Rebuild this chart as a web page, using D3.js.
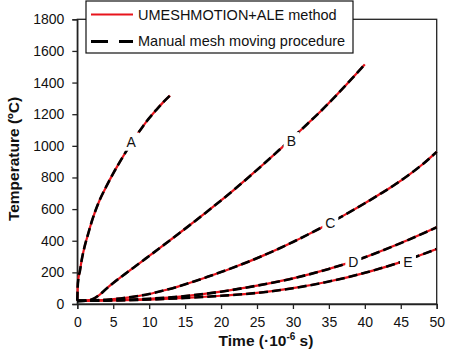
<!DOCTYPE html>
<html>
<head>
<meta charset="utf-8">
<script src="https://cdn.jsdelivr.net/npm/d3@7"></script>
<style>
  body { margin: 0; background: #fff; }
  text { font-family: "Liberation Sans", Arial, sans-serif; }
</style>
</head>
<body>
<svg id="chart" width="474" height="353"></svg>
<script>
// curve data: time (µs) and temperature (ºC)
const curveNames = ['A', 'B', 'C', 'D', 'E'];

const timeA = [0, 0.05, 0.15, 0.35, 0.6, 1, 1.5, 2, 3, 4, 5, 6, 7, 8, 9, 10, 11, 12, 12.9];
const tempA = [20, 105, 160, 205, 275, 360, 442, 520, 645, 740, 826, 905, 980, 1050, 1115, 1175, 1228, 1278, 1318];

const timeB = [0, 1, 2, 3, 4, 5, 6, 7, 8, 9, 10, 12, 14, 16, 18, 20, 22, 24, 26, 28, 30, 32, 34, 36, 38, 40];
const tempB = [20, 21, 28, 55, 95, 133, 168, 202, 236, 270, 304, 372, 441, 511, 582, 655, 730, 808, 888, 970, 1053, 1138, 1225, 1318, 1415, 1515];

const timeC = [0, 2, 4, 6, 8, 10, 12, 14, 16, 18, 20, 22, 24, 26, 28, 30, 32, 34, 36, 38, 40, 42, 44, 46, 48, 50];
const tempC = [20, 22, 27, 35, 47, 63, 85, 110, 139, 170, 202, 236, 271, 309, 349, 392, 437, 484, 533, 584, 637, 692, 749, 812, 882, 962];

const timeD = [0, 5, 10, 15, 20, 25, 30, 35, 40, 45, 50];
const tempD = [20, 24, 33, 50, 78, 116, 162, 222, 295, 385, 485];

const timeE = [0, 5, 10, 15, 20, 25, 30, 35, 40, 45, 50];
const tempE = [20, 22, 28, 38, 52, 70, 100, 142, 197, 265, 348];

const labelTimes = [7.5, 29.8, 35.2, 38.4, 46.0];
const labelTemps = [1026, 1030, 510, 264, 264];

const xTicks = [0, 5, 10, 15, 20, 25, 30, 35, 40, 45, 50];
const yTicks = [0, 200, 400, 600, 800, 1000, 1200, 1400, 1600, 1800];

const legendLabels = ['UMESHMOTION+ALE method', 'Manual mesh moving procedure'];

const curves = [
  d3.zip(timeA, tempA), d3.zip(timeB, tempB), d3.zip(timeC, tempC),
  d3.zip(timeD, tempD), d3.zip(timeE, tempE)
];

const svg = d3.select('#chart');
const plotL = 77.3, plotR = 436.7, plotT = 19.3, plotB = 304;

const x = d3.scaleLinear().domain([0, 50]).range([plotL, plotR]);
const y = d3.scaleLinear().domain([0, 1800]).range([plotB, plotT]);

// frame
svg.append('rect')
  .attr('x', plotL).attr('y', plotT)
  .attr('width', plotR - plotL).attr('height', plotB - plotT)
  .attr('fill', 'none').attr('stroke', '#222').attr('stroke-width', 1.3);

const xAxis = svg.append('g')
  .attr('transform', `translate(0,${plotB})`)
  .call(d3.axisBottom(x).tickValues(xTicks).tickFormat(d3.format('d')).tickSize(5).tickPadding(8));
const yAxis = svg.append('g')
  .attr('transform', `translate(${plotL},0)`)
  .call(d3.axisLeft(y).tickValues(yTicks).tickFormat(d3.format('d')).tickSize(5).tickPadding(8));

[xAxis, yAxis].forEach(ax => {
  ax.select('.domain').attr('stroke', '#222').attr('stroke-width', 1.3);
  ax.selectAll('.tick line').attr('stroke', '#222').attr('stroke-width', 1.3);
  ax.selectAll('.tick text')
    .attr('font-family', '"Liberation Sans", Arial, sans-serif')
    .attr('font-size', 14).attr('fill', '#111');
});

const line = d3.line()
  .x(d => x(d[0]))
  .y(d => y(d[1]))
  .curve(d3.curveMonotoneX);

// red: UMESHMOTION+ALE, black dashed: manual procedure
svg.append('g').selectAll('path')
  .data(curves).join('path')
  .attr('d', line)
  .attr('fill', 'none').attr('stroke', '#e8141c').attr('stroke-width', 2.2);

svg.append('g').selectAll('path')
  .data(curves).join('path')
  .attr('d', line)
  .attr('fill', 'none').attr('stroke', '#000').attr('stroke-width', 2.6)
  .attr('stroke-dasharray', '9,4');

// curve letters with a white gap in the line
const lab = svg.append('g').selectAll('g')
  .data(curveNames).join('g')
  .attr('transform', (d, i) => `translate(${x(labelTimes[i])},${y(labelTemps[i])})`);
lab.append('rect')
  .attr('x', -8).attr('y', -9).attr('width', 16).attr('height', 18)
  .attr('fill', '#fff');
lab.append('text')
  .attr('text-anchor', 'middle').attr('dy', '0.36em')
  .attr('font-size', 14).attr('fill', '#111')
  .text(d => d);

// legend
const lg = svg.append('g');
lg.append('rect')
  .attr('x', 86).attr('y', 1).attr('width', 267).attr('height', 52)
  .attr('fill', '#fff').attr('stroke', '#111').attr('stroke-width', 1.2);
lg.append('line')
  .attr('x1', 91).attr('x2', 133).attr('y1', 14.5).attr('y2', 14.5)
  .attr('stroke', '#e8141c').attr('stroke-width', 2.2);
lg.append('line')
  .attr('x1', 91).attr('x2', 133).attr('y1', 41.5).attr('y2', 41.5)
  .attr('stroke', '#000').attr('stroke-width', 3)
  .attr('stroke-dasharray', '17,11');
lg.selectAll('text')
  .data(legendLabels).join('text')
  .attr('x', 138).attr('y', (d, i) => i ? 46 : 19.5)
  .attr('font-size', 14.5).attr('fill', '#111')
  .text(d => d);

// axis titles
const xt = svg.append('text')
  .attr('x', 266).attr('y', 346)
  .attr('text-anchor', 'middle')
  .attr('font-size', 15.5).attr('font-weight', 'bold').attr('fill', '#111');
xt.append('tspan').text('Time (·10');
xt.append('tspan').attr('font-size', 10).attr('dy', -6).text('-6');
xt.append('tspan').attr('dy', 6).text(' s)');

svg.append('text')
  .attr('transform', 'translate(19,159) rotate(-90)')
  .attr('text-anchor', 'middle')
  .attr('font-size', 15.5).attr('font-weight', 'bold').attr('fill', '#111')
  .text('Temperature (ºC)');
</script>
</body>
</html>
